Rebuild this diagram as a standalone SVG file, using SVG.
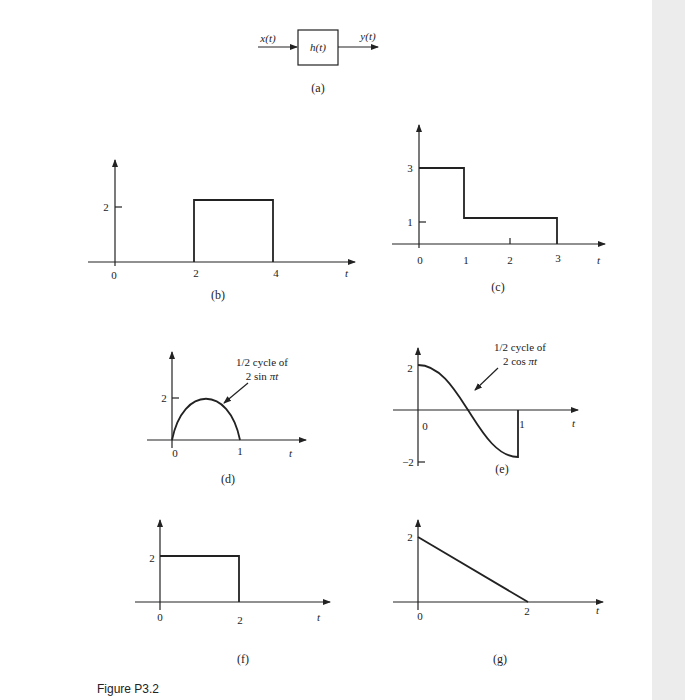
<svg xmlns="http://www.w3.org/2000/svg" width="685" height="700" viewBox="0 0 685 700">
<defs>
<marker id="ah" markerWidth="8" markerHeight="8" refX="7" refY="4" orient="auto" markerUnits="userSpaceOnUse"><path d="M0,1 L8,4 L0,7 Z" fill="#222"/></marker>
<style>
.ax{stroke:#222;stroke-width:1.2;fill:none}
.sig{stroke:#222;stroke-width:1.8;fill:none}
text{font-family:"Liberation Serif",serif;font-size:11px;fill:#222}
.it{font-style:italic}
.cap{font-size:12px;text-anchor:middle}
</style>
</defs>
<rect width="685" height="700" fill="#fff"/>
<rect x="652" y="0" width="33" height="700" fill="#ececec"/>
<g id="a">
<rect x="298" y="30" width="40" height="35" class="ax"/>
<text x="318" y="51" text-anchor="middle" class="it">h(t)</text>
<line x1="258" y1="47" x2="297" y2="47" class="ax" marker-end="url(#ah)"/>
<line x1="338" y1="47" x2="378" y2="47" class="ax" marker-end="url(#ah)"/>
<text x="268" y="42" text-anchor="middle" class="it">x(t)</text>
<text x="368" y="40" text-anchor="middle" class="it">y(t)</text>
<text x="318" y="92" class="cap">(a)</text>
</g>
<g id="b">
<line x1="115" y1="266" x2="115" y2="160" class="ax" marker-end="url(#ah)"/>
<line x1="88" y1="262" x2="355" y2="262" class="ax" marker-end="url(#ah)"/>
<line x1="115" y1="207" x2="122" y2="207" class="ax"/>
<polyline points="194,262 194,200 273,200 273,262" class="sig"/>
<text x="106" y="211" text-anchor="middle">2</text>
<text x="114" y="279" text-anchor="middle">0</text>
<text x="196" y="277" text-anchor="middle">2</text>
<text x="276" y="277" text-anchor="middle">4</text>
<text x="345" y="277" class="it">t</text>
<text x="218" y="299" class="cap">(b)</text>
</g>
<g id="c">
<line x1="419" y1="248" x2="419" y2="125" class="ax" marker-end="url(#ah)"/>
<line x1="392" y1="244" x2="605" y2="244" class="ax" marker-end="url(#ah)"/>
<line x1="419" y1="222" x2="426" y2="222" class="ax"/>
<line x1="510" y1="244" x2="510" y2="238" class="ax"/>
<polyline points="419,168 464,168 464,218 557,218 557,244" class="sig"/>
<text x="410" y="172" text-anchor="middle">3</text>
<text x="410" y="226" text-anchor="middle">1</text>
<text x="420" y="264" text-anchor="middle">0</text>
<text x="466" y="264" text-anchor="middle">1</text>
<text x="510" y="264" text-anchor="middle">2</text>
<text x="558" y="262" text-anchor="middle">3</text>
<text x="597" y="264" class="it">t</text>
<text x="498" y="291" class="cap">(c)</text>
</g>
<g id="d">
<line x1="172" y1="448" x2="172" y2="352" class="ax" marker-end="url(#ah)"/>
<line x1="147" y1="440" x2="306" y2="440" class="ax" marker-end="url(#ah)"/>
<line x1="172" y1="398" x2="179" y2="398" class="ax"/>
<path d="M172,440 C183,385 229,385 240,440" class="sig"/>
<text x="164" y="402" text-anchor="middle">2</text>
<text x="175" y="457" text-anchor="middle">0</text>
<text x="240" y="455" text-anchor="middle">1</text>
<text x="289" y="457" class="it">t</text>
<text x="262" y="366" text-anchor="middle">1/2 cycle of</text>
<text x="262" y="380" text-anchor="middle">2 sin <tspan class="it">πt</tspan></text>
<line x1="248" y1="383" x2="224" y2="403" class="ax" marker-end="url(#ah)"/>
<text x="228" y="483" class="cap">(d)</text>
</g>
<g id="e">
<line x1="418" y1="466" x2="418" y2="348" class="ax" marker-end="url(#ah)"/>
<line x1="393" y1="410" x2="578" y2="410" class="ax" marker-end="url(#ah)"/>
<line x1="418" y1="462" x2="425" y2="462" class="ax"/>
<path d="M418,365 C440,365 455,390 468,410 C481,430 496,457 518,457 L518,410" class="sig"/>
<text x="410" y="372" text-anchor="middle">2</text>
<text x="408" y="466" text-anchor="middle">−2</text>
<text x="425" y="430" text-anchor="middle">0</text>
<text x="522" y="428" text-anchor="middle">1</text>
<text x="572" y="427" class="it">t</text>
<text x="520" y="351" text-anchor="middle">1/2 cycle of</text>
<text x="520" y="365" text-anchor="middle">2 cos <tspan class="it">πt</tspan></text>
<line x1="498" y1="368" x2="475" y2="390" class="ax" marker-end="url(#ah)"/>
<text x="502" y="473" class="cap">(e)</text>
</g>
<g id="f">
<line x1="160" y1="610" x2="160" y2="520" class="ax" marker-end="url(#ah)"/>
<line x1="135" y1="602" x2="330" y2="602" class="ax" marker-end="url(#ah)"/>
<polyline points="160,556 239,556 239,602" class="sig"/>
<text x="152" y="562" text-anchor="middle">2</text>
<text x="160" y="621" text-anchor="middle">0</text>
<text x="240" y="624" text-anchor="middle">2</text>
<text x="317" y="621" class="it">t</text>
<text x="243" y="663" class="cap">(f)</text>
</g>
<g id="g">
<line x1="418" y1="610" x2="418" y2="520" class="ax" marker-end="url(#ah)"/>
<line x1="393" y1="602" x2="603" y2="602" class="ax" marker-end="url(#ah)"/>
<line x1="418" y1="537" x2="528" y2="602" class="sig"/>
<text x="410" y="541" text-anchor="middle">2</text>
<text x="420" y="620" text-anchor="middle">0</text>
<text x="527" y="615" text-anchor="middle">2</text>
<text x="596" y="614" class="it">t</text>
<text x="500" y="663" class="cap">(g)</text>
</g>
<text x="97" y="693" style="font-family:'Liberation Sans',sans-serif;font-size:12px">Figure P3.2</text>
</svg>
